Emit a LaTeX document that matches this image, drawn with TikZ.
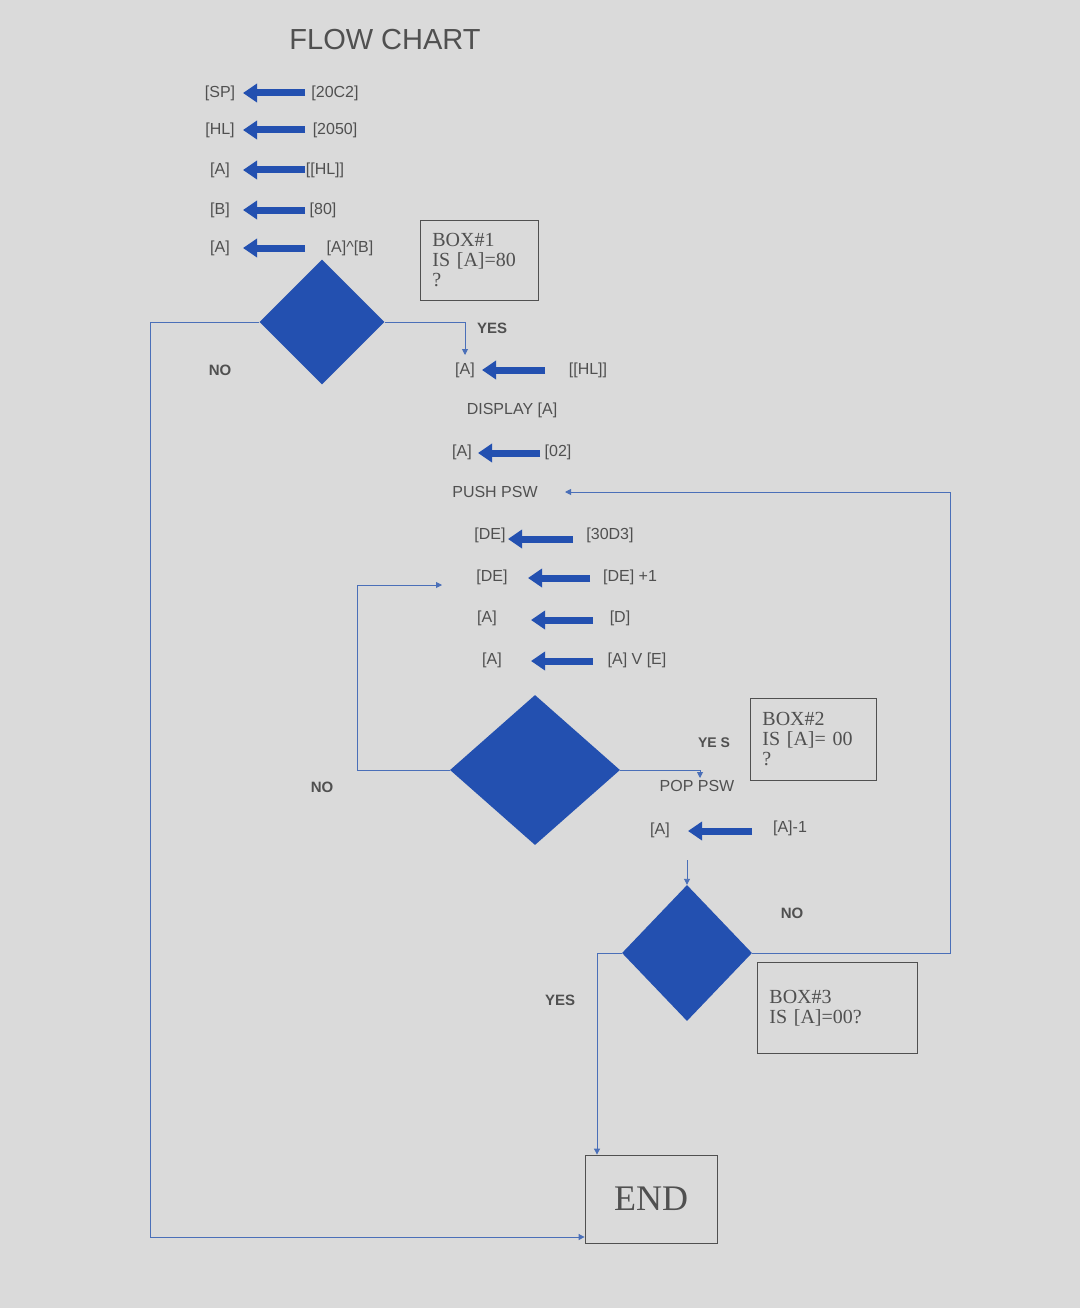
\documentclass[tikz,border=0pt]{standalone}
\usepackage{fontspec}
\setmainfont{Liberation Sans}
\newfontfamily\serifx{Liberation Serif}
\usetikzlibrary{arrows.meta,shapes.geometric}
\definecolor{bg}{HTML}{DADADA}
\definecolor{blu}{HTML}{2350B0}
\definecolor{txt}{HTML}{505050}
\definecolor{lnc}{HTML}{4A6FB8}
\begin{document}
\begin{tikzpicture}[x=1pt,y=1pt,
  t/.style={font=\fontsize{16}{18}\selectfont,text=txt,inner sep=1pt},
  fat/.style={blu,line width=7pt,-{Triangle[length=14pt,width=18pt]}},
  dia/.style={diamond,fill=blu,draw=none,minimum width=#1,minimum height=#1,inner sep=0pt},
  bx/.style={draw=txt,line width=0.8pt,align=left,anchor=north west,font=\serifx\fontsize{20}{20}\selectfont,text=txt,inner sep=0pt},
  ln/.style={draw=lnc,line width=0.9pt},
  la/.style={draw=lnc,fill=lnc,line width=0.9pt,-{Triangle[length=6pt,width=6pt]}}]
\useasboundingbox (0,0) rectangle (1080,-1308);
\fill[bg] (0,0) rectangle (1080,-1308);
\node[font=\fontsize{29}{32}\selectfont,text=txt] (title) at (385,-40) {FLOW CHART};
% top assignments
\foreach \n/\y/\l/\r/\rx in {a/93/[SP]/[20C2]/335, b/130/[HL]/[2050]/335, c/170/[A]/[[HL]]/325, d/210/[B]/[80]/323, e/248/[A]/[A]\textasciicircum[B]/350}{
  \node[t] (\n l) at (220,-\y) {\l};
  \node[t] (\n r) at (\rx,-\y) {\r};
  \coordinate (\n s) at (305,-\y); \coordinate (\n t) at (243,-\y);
  \draw[fat] (\n s) -- (\n t);
}
\node[bx,text width=118pt,minimum height=80pt] (box1) at (420,-220) {\hspace{12pt}BOX\#1\\\hspace{12pt}IS [A]=80\\\hspace{12pt}?};
\node[dia=125pt] (d1) at (322,-322) {};
\coordinate (y1) at (465,-322); \coordinate (y1b) at (465,-355);
\draw[ln] (d1.east) -- (y1); \draw[la] (y1) -- (y1b);
\node[t,font=\bfseries\fontsize{15}{17}\selectfont] (yes1) at (492,-328) {YES};
\node[t,font=\bfseries\fontsize{15}{17}\selectfont] (no1) at (220,-370) {NO};
\coordinate (n1a) at (150,-322); \coordinate (n1b) at (150,-1237);
% middle column
\node[t] (m1l) at (465,-370) {[A]}; \node[t] (m1r) at (588,-370) {[[HL]]};
\coordinate (m1s) at (545,-370); \coordinate (m1t) at (482,-370); \draw[fat] (m1s) -- (m1t);
\node[t] (disp) at (512,-410) {DISPLAY [A]};
\node[t] (m2l) at (462,-452) {[A]}; \node[t] (m2r) at (558,-452) {[02]};
\coordinate (m2s) at (540,-453); \coordinate (m2t) at (478,-453); \draw[fat] (m2s) -- (m2t);
\node[t] (push) at (495,-492) {PUSH PSW};
\node[t] (m3l) at (490,-535) {[DE]}; \node[t] (m3r) at (610,-535) {[30D3]};
\coordinate (m3s) at (573,-539); \coordinate (m3t) at (508,-539); \draw[fat] (m3s) -- (m3t);
\node[t] (m4l) at (492,-577) {[DE]}; \node[t] (m4r) at (630,-577) {[DE] +1};
\coordinate (m4s) at (590,-578); \coordinate (m4t) at (528,-578); \draw[fat] (m4s) -- (m4t);
\node[t] (m5l) at (487,-618) {[A]}; \node[t] (m5r) at (620,-618) {[D]};
\coordinate (m5s) at (593,-620); \coordinate (m5t) at (531,-620); \draw[fat] (m5s) -- (m5t);
\node[t] (m6l) at (492,-660) {[A]}; \node[t] (m6r) at (637,-660) {[A] V [E]};
\coordinate (m6s) at (593,-661); \coordinate (m6t) at (531,-661); \draw[fat] (m6s) -- (m6t);
\node[dia=150pt,minimum width=170pt] (d2) at (535,-770) {};
\coordinate (l2a) at (357,-770); \coordinate (l2b) at (357,-585); \coordinate (l2c) at (442,-585);
\draw[ln] (d2.west) -- (l2a) -- (l2b); \draw[la] (l2b) -- (l2c);
\node[t,font=\bfseries\fontsize{15}{17}\selectfont] (no2) at (322,-787) {NO};
\coordinate (r2a) at (700,-770); \coordinate (r2b) at (700,-778);
\draw[ln] (d2.east) -- (r2a); \draw[la] (r2a) -- (r2b);
\node[t,font=\bfseries\fontsize{14}{17}\selectfont] (yes2) at (714,-743) {YE S};
\node[t] (pop) at (697,-786) {POP PSW};
\node[bx,text width=126pt,minimum height=82pt] (box2) at (750,-698) {\hspace{12pt}BOX\#2\\\hspace{12pt}IS [A]= 00\\\hspace{12pt}?};
\node[t] (m7l) at (660,-830) {[A]}; \node[t] (m7r) at (790,-828) {[A]-1};
\coordinate (m7s) at (752,-831); \coordinate (m7t) at (688,-831); \draw[fat] (m7s) -- (m7t);
\coordinate (a3) at (687,-860);
\node[dia=136pt,minimum width=130pt] (d3) at (687,-953) {};
\draw[la] (a3) -- (d3.north);
\node[t,font=\bfseries\fontsize{15}{17}\selectfont] (no3) at (792,-913) {NO};
\coordinate (r3a) at (950,-953); \coordinate (r3b) at (950,-492); \coordinate (r3c) at (565,-492);
\draw[ln] (d3.east) -- (r3a) -- (r3b); \draw[la] (r3b) -- (r3c);
\node[t,font=\bfseries\fontsize{15}{17}\selectfont] (yes3) at (560,-1000) {YES};
\node[bx,text width=160pt,minimum height=91pt] (box3) at (757,-962) {\hspace{12pt}BOX\#3\\\hspace{12pt}IS [A]=00?};
\node[draw=txt,line width=0.8pt,minimum width=132pt,minimum height=88pt,font=\serifx\fontsize{36}{36}\selectfont,text=txt] (end) at (651,-1199) {END};
\coordinate (l3a) at (597,-953);
\draw[ln] (d3.west) -- (l3a); \draw[la] (l3a) -- (end.north west -| l3a);
\draw[ln] (d1.west) -- (n1a) -- (n1b); \draw[la] (n1b) -- (end.west |- n1b);
\end{tikzpicture}
\end{document}
